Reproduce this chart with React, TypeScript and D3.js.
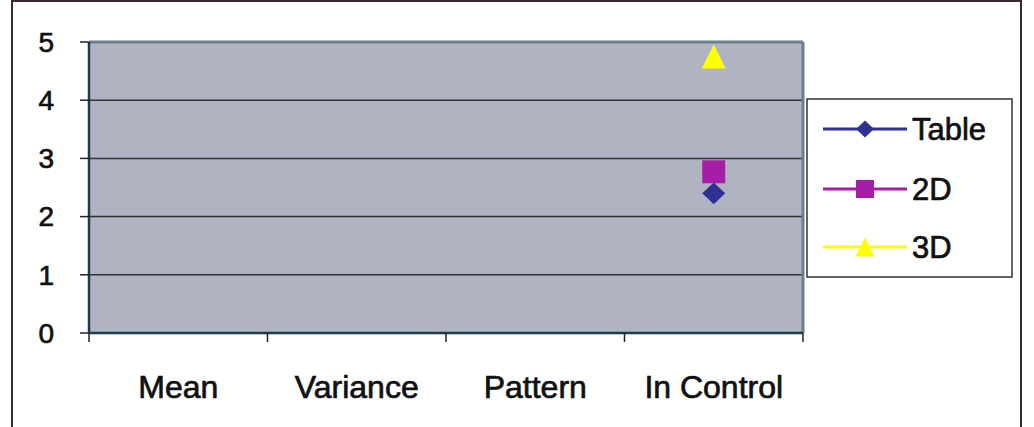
import React from "react";
import * as d3 from "d3";

const categories = ["Mean", "Variance", "Pattern", "In Control"];
const seriesNames = ["Table", "2D", "3D"];
const tableValues: (number | null)[] = [null, null, null, 2.4];
const twoDValues: (number | null)[] = [null, null, null, 2.77];
const threeDValues: (number | null)[] = [null, null, null, 4.75];
const yTicks = [0, 1, 2, 3, 4, 5];

const W = 1034;
const H = 427;
const plot = { left: 89, top: 42, right: 803, bottom: 333 };
const FONT = "'Liberation Sans', Arial, sans-serif";

const colors = ["#2e3192", "#a61ea6", "#ffff00"];

const diamond: d3.SymbolType = {
  draw(ctx, r) {
    ctx.moveTo(0, -r * 0.95);
    ctx.lineTo(r, 0);
    ctx.lineTo(0, r * 0.95);
    ctx.lineTo(-r, 0);
    ctx.closePath();
  },
};
const square: d3.SymbolType = {
  draw(ctx, r) {
    ctx.rect(-r, -r, 2 * r, 2 * r);
  },
};
const triangle: d3.SymbolType = {
  draw(ctx, r) {
    ctx.moveTo(0, -r);
    ctx.lineTo(r, r);
    ctx.lineTo(-r, r);
    ctx.closePath();
  },
};
const shapes = [diamond, square, triangle];
const plotSizes = [11.5, 11.5, 12];
const legendSizes = [9, 9, 9.5];

export default function App() {
  const x = d3.scaleBand<string>().domain(categories).range([plot.left, plot.right]).padding(0);
  const y = d3.scaleLinear().domain([0, 5]).range([plot.bottom, plot.top]);
  const allSeries = [tableValues, twoDValues, threeDValues];
  const tickXs = [...categories.map((c) => x(c)!), plot.right];

  const legend = { x: 807, y: 99, w: 205, h: 178 };
  const legendRows = [129, 189, 247];

  const symPath = (i: number, s: number) => d3.symbol().type(shapes[i]).size(s)() as string;

  const textStyle = { fontFamily: FONT, fill: "#111", stroke: "#111", strokeWidth: 0.7 };

  return (
    <svg width={W} height={H} style={{ position: "absolute", left: 0, top: 0, background: "#fff" }}>
      <rect x={12} y={1} width={1009} height={440} fill="#fff" stroke="#3a2a2a" strokeWidth={2} />
      <rect x={plot.left} y={plot.top} width={plot.right - plot.left} height={plot.bottom - plot.top} fill="#b0b3c1" />
      {yTicks.filter((t) => t > 0 && t < 5).map((t) => (
        <line key={t} x1={plot.left} x2={plot.right} y1={y(t)} y2={y(t)} stroke="#333" strokeWidth={1.5} />
      ))}
      <line x1={plot.left} x2={plot.right} y1={plot.top} y2={plot.top} stroke="#6b7f8c" strokeWidth={3} />
      <line x1={plot.right} x2={plot.right} y1={plot.top} y2={plot.bottom} stroke="#6b7f8c" strokeWidth={3} />
      <line x1={plot.left} x2={plot.left} y1={plot.top} y2={plot.bottom} stroke="#1f3a48" strokeWidth={2.5} />
      <line x1={plot.left} x2={plot.right} y1={plot.bottom} y2={plot.bottom} stroke="#1f3a48" strokeWidth={2.5} />
      {yTicks.map((t) => (
        <g key={t}>
          <line x1={plot.left - 9} x2={plot.left} y1={y(t)} y2={y(t)} stroke="#222" strokeWidth={1.5} />
          <text x={54} y={y(t)} dy="0.35em" textAnchor="end" fontSize={28} {...textStyle}>
            {t}
          </text>
        </g>
      ))}
      {tickXs.map((tx, i) => (
        <line key={i} x1={tx} x2={tx} y1={plot.bottom} y2={plot.bottom + 9} stroke="#222" strokeWidth={1.5} />
      ))}
      {categories.map((c) => (
        <text key={c} x={x(c)! + x.bandwidth() / 2} y={398} textAnchor="middle" fontSize={32} {...textStyle}>
          {c}
        </text>
      ))}
      {allSeries.map((vals, si) =>
        vals.map((v, ci) =>
          v == null ? null : (
            <path
              key={`${si}-${ci}`}
              d={symPath(si, plotSizes[si])}
              transform={`translate(${x(categories[ci])! + x.bandwidth() / 2},${y(v)})`}
              fill={colors[si]}
            />
          )
        )
      )}
      <rect x={legend.x} y={legend.y} width={legend.w} height={legend.h} fill="#fff" stroke="#333" strokeWidth={1.5} />
      {seriesNames.map((n, i) => (
        <g key={n}>
          <line x1={823} x2={907} y1={legendRows[i]} y2={legendRows[i]} stroke={colors[i]} strokeWidth={3} />
          <path d={symPath(i, legendSizes[i])} transform={`translate(865,${legendRows[i]})`} fill={colors[i]} />
          <text x={912} y={legendRows[i]} dy="0.36em" fontSize={31} {...textStyle}>
            {n}
          </text>
        </g>
      ))}
    </svg>
  );
}
